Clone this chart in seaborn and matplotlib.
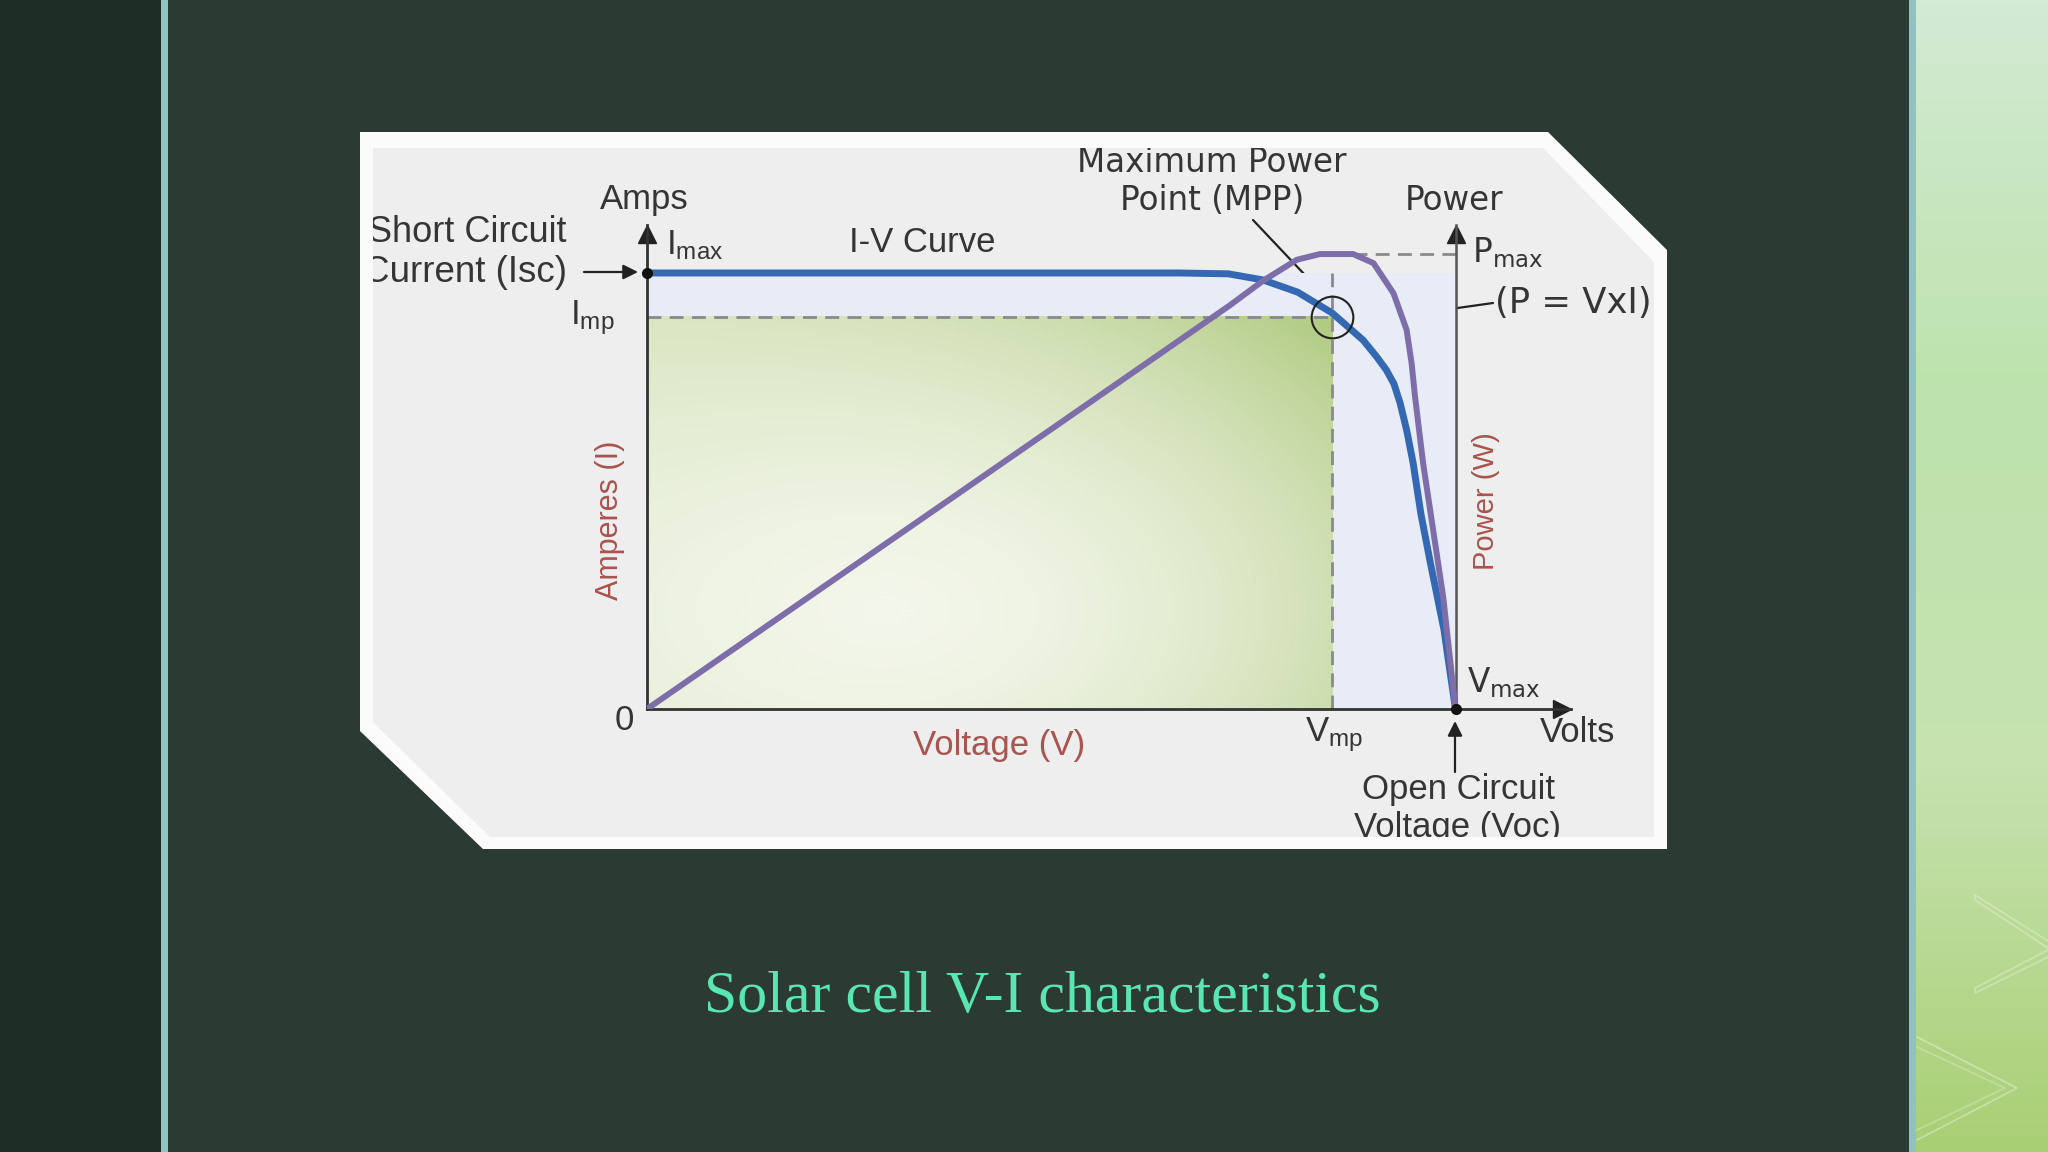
import numpy as np
import matplotlib
matplotlib.use("Agg")
import matplotlib.pyplot as plt
from matplotlib.patches import Polygon, Rectangle
from matplotlib.colors import LinearSegmentedColormap
from matplotlib.transforms import Bbox, TransformedBbox
import seaborn as sns

# I-V curve (volts, amps)
volts_iv = [0, 5, 10, 13.8, 15.1, 16.0, 16.9, 17.8, 18.6, 18.95, 19.2, 19.4,
            19.56, 19.73, 19.9, 20.1, 20.35, 20.7, 20.85, 21.0]
amps_iv = [5.0, 5.0, 5.0, 5.0, 4.99, 4.92, 4.78, 4.54, 4.23, 4.04, 3.89, 3.73,
           3.51, 3.20, 2.82, 2.24, 1.67, 0.91, 0.45, 0.0]

# P-V curve (volts, watts)
volts_pv = [0, 5, 10, 13.84, 15.14, 16.0, 16.88, 17.48, 18.34, 18.87, 19.39,
            19.73, 19.86, 19.95, 20.16, 20.42, 20.68, 20.87, 21.0]
watts_pv = [0, 23.4, 46.8, 64.8, 70.9, 75.2, 78.9, 79.9, 79.9, 78.3, 73.0,
            66.6, 60.7, 54.8, 43.1, 31.4, 19.7, 8.0, 0]

v_mp, i_mp = 17.8, 4.5
v_oc, i_sc = 21.0, 5.0
p_max, v_pmax = 79.9, 18.34

title = "Solar cell V-I characteristics"

BLUE = "#3468b2"
PURPLE = "#7d6eaa"
TXT = "#353535"
RED = "#a85450"
DASH = "#8a8a8a"

sns.set_theme(style="white")
plt.rcParams["font.family"] = ["Liberation Sans", "DejaVu Sans"]

fig = plt.figure(figsize=(20.48, 11.52), dpi=100)
fig.patch.set_facecolor("#2b3a33")

# slide background, pixel coordinates
bg = fig.add_axes([0, 0, 1, 1])
bg.axis("off")
bg.add_patch(Rectangle((0, 0), 161, 1152, color="#1f2d27", lw=0))
bg.add_patch(Rectangle((161, 0), 7, 1152, color="#8cc7c3", lw=0))
bg.add_patch(Rectangle((1909, 0), 7, 1152, color="#8fc2c3", lw=0))
strip = LinearSegmentedColormap.from_list("strip", ["#d3eAd4", "#bde3ad", "#c6e2b0", "#a9cf74"])
bg.imshow(np.linspace(0, 1, 256).reshape(-1, 1), cmap=strip, extent=(1916, 2048, 1152, 0),
          aspect="auto", zorder=1)
bg.plot([1917, 2017, 1917], [1037, 1088, 1140], color="white", alpha=0.35, lw=1.2, zorder=2)
bg.plot([1917, 2005, 1917], [1047, 1088, 1130], color="white", alpha=0.25, lw=1.2, zorder=2)
bg.plot([2048, 1975, 1975, 2048], [941, 895, 900, 948], color="white", alpha=0.3, lw=1.2, zorder=2)
bg.plot([2048, 1975, 1975, 2048], [950, 988, 993, 957], color="white", alpha=0.3, lw=1.2, zorder=2)

outer = Polygon([(360, 132), (1548, 132), (1667, 250), (1667, 849), (483, 849), (360, 731)],
                closed=True, color="#fbfbfb", lw=0, zorder=3)
inner = Polygon([(373, 148), (1543, 148), (1654, 262), (1654, 837), (490, 837), (373, 722)],
                closed=True, color="#eeeeee", lw=0, zorder=4)
bg.add_patch(outer)
bg.add_patch(inner)
bg.set_xlim(0, 2048)
bg.set_ylim(1152, 0)

# Agg clips text only to a rectangle
text_box = TransformedBbox(Bbox([[373 / 2048, (1152 - 837) / 1152],
                                 [1654 / 2048, (1152 - 148) / 1152]]), fig.transFigure)

bg.text(1042, 1012, title, ha="center", va="baseline", fontsize=43,
        family="Liberation Serif", color="#5ae6b3")

# chart axes
ax = fig.add_axes([647 / 2048, 443 / 1152, 924 / 2048, 484 / 1152])
ax.set_facecolor("none")
ax.fill_between([0, v_oc], [i_sc, i_sc], color="#e8ecf6", lw=0, zorder=0.5)

u, w = np.meshgrid(np.linspace(0, 1, 300), np.linspace(0, 1, 300))
shade = np.clip(np.hypot(u - 0.35, w - 0.25), 0, 1) ** 1.6 * (0.5 + 0.5 * u)
green = LinearSegmentedColormap.from_list("green", ["#f3f6ea", "#aec97e"])
ax.imshow(shade, cmap=green, vmin=0, vmax=1, extent=(0, v_mp, 0, i_mp), origin="lower",
          aspect="auto", zorder=1, interpolation="bilinear")

ax.plot([0, v_mp], [i_mp, i_mp], ls=(0, (5, 3)), color=DASH, lw=2, zorder=2)
ax.plot([v_mp, v_mp], [0, i_sc], ls=(0, (5, 3)), color=DASH, lw=2, zorder=2)

sns.lineplot(x=volts_iv, y=amps_iv, ax=ax, sort=False, estimator=None, color=BLUE,
             lw=5, zorder=4)
ax.plot([v_mp], [i_mp], marker="o", ms=30, mfc="none", mec="#222222", mew=1.5,
        zorder=6, clip_on=False)
ax.plot([0], [i_sc], "o", ms=7, color="#111111", clip_on=False, zorder=7)

ax.set_xlim(0, 24)
ax.set_ylim(0, 5.55)
ax.set_xticks([])
ax.set_yticks([])
ax.grid(False)
for s in ["top", "right"]:
    ax.spines[s].set_visible(False)
for s in ["left", "bottom"]:
    ax.spines[s].set_color("#333333")
    ax.spines[s].set_linewidth(2)
ax.plot([0], [0.981], marker="^", ms=13, color="#222222", transform=ax.transAxes, clip_on=False)
ax.plot([0.990], [0], marker=">", ms=13, color="#222222", transform=ax.transAxes, clip_on=False)

# power axis
ax2 = ax.twinx()
ax2.set_ylim(0, 85)
ax2.set_yticks([])
ax2.grid(False)
for s in ["top", "left", "bottom"]:
    ax2.spines[s].set_visible(False)
ax2.spines["right"].set_position(("data", v_oc))
ax2.spines["right"].set_color("#555555")
ax2.spines["right"].set_linewidth(1.8)
sns.lineplot(x=volts_pv, y=watts_pv, ax=ax2, sort=False, estimator=None, color=PURPLE,
             lw=4.3, zorder=3)
ax2.plot([v_pmax, v_oc], [p_max, p_max], ls=(0, (5, 3)), color=DASH, lw=2, zorder=2)
ax2.plot([v_oc], [0], "o", ms=7, color="#111111", clip_on=False, zorder=7)
ax2.plot([v_oc], [0.981], marker="^", ms=13, color="#222222",
         transform=ax2.get_xaxis_transform(), clip_on=False)
ax2.set_xlim(0, 24)


def label(x, y, s, size=25, ha="center", family="Liberation Sans", color=TXT, **kw):
    t = bg.text(x, y, s, fontsize=size, ha=ha, va="center", family=[family, "DejaVu Sans"],
                color=color, clip_on=True, zorder=10, **kw)
    t.set_clip_path(None)
    t.set_clip_box(text_box)
    return t


def arrow(x0, y0, x1, y1):
    bg.annotate("", xy=(x1, y1), xytext=(x0, y0), zorder=10,
                arrowprops=dict(arrowstyle="-|>", color="#222222", lw=1.6,
                                mutation_scale=22, shrinkA=0, shrinkB=0))


label(644, 200, "Amps")
label(567, 233, "Short Circuit", size=26, ha="right")
label(567, 272, "Current (Isc)", size=26.5, ha="right")
label(666, 245, r"$\mathregular{I_{max}}$", ha="left")
label(922, 243, "I-V Curve")
label(1212, 162, "Maximum Power", size=23.5, family="DejaVu Sans")
label(1212, 200, "Point (MPP)", size=23.5, family="DejaVu Sans")
label(1454, 200, "Power", size=23.5, family="DejaVu Sans")
label(1472, 253, r"$\mathregular{P_{max}}$", size=23.5, ha="left", family="DejaVu Sans")
label(1495, 303, "(P = VxI)", size=25.5, ha="left", family="DejaVu Sans")
label(615, 318, r"$\mathregular{I_{mp}}$", ha="right")
label(908, 440, "P-V Curve")
label(1092, 588, r"Area = $\mathregular{V_{mp}}$ x $\mathregular{I_{mp}}$")
label(624, 720, "0")
label(999, 745, "Voltage (V)", color=RED)
label(1334, 735, r"$\mathregular{V_{mp}}$")
label(1467, 683, r"$\mathregular{V_{max}}$", size=23.5, ha="left", family="DejaVu Sans")
label(1540, 733, "Volts", ha="left")
label(1458, 790, "Open Circuit")
label(1457, 827, "Voltage (Voc)")
label(610, 520, "Amperes (I)", size=22, color=RED, rotation=90)
label(1486, 501, "Power (W)", size=21, color=RED, rotation=90)

arrow(584, 272, 638, 272)
arrow(1253, 220, 1322, 293)
arrow(1493, 303, 1408, 315)
arrow(1455, 772, 1455, 721)

fig.savefig("out.png", dpi=100, facecolor=fig.get_facecolor())
